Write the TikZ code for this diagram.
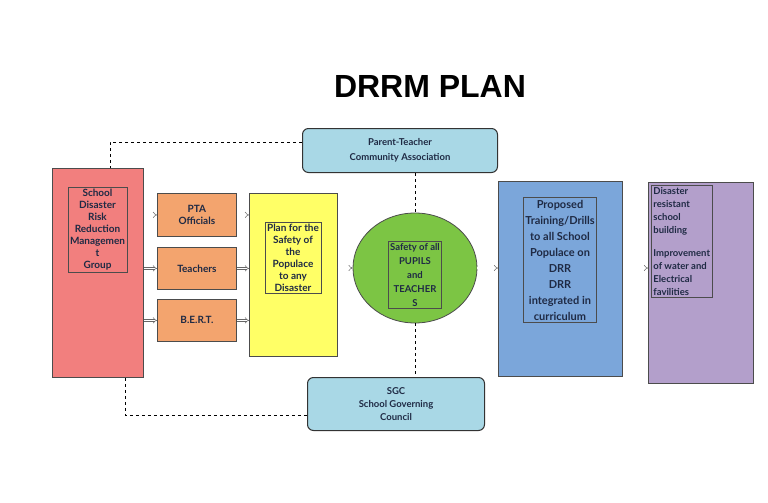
\documentclass[tikz,border=0pt]{standalone}
\usepackage{fontspec}
\setmainfont{Lato}
\newfontfamily\titlefont{Liberation Sans}
\usetikzlibrary{arrows.meta,shapes.geometric}
\definecolor{cred}{HTML}{F27F7E}
\definecolor{corg}{HTML}{F3A46E}
\definecolor{cyel}{HTML}{FFFF66}
\definecolor{cgrn}{HTML}{7CC544}
\definecolor{clb}{HTML}{A9D8E6}
\definecolor{cblu}{HTML}{7BA6DA}
\definecolor{cpur}{HTML}{B39FCB}
\definecolor{ctxt}{HTML}{1F2A44}
\begin{document}
\begin{tikzpicture}[x=1pt,y=-1pt,
  bx/.style={draw=black!70,line width=0.8pt,inner sep=2pt,align=center,font=\bfseries\fontsize{10}{12}\selectfont,text=ctxt},
  rb/.style={bx,rounded corners=6pt,draw=black!80,line width=1pt},
  dl/.style={dashed,line width=0.7pt},
  ar/.style={double,double distance=1.6pt,line width=0.5pt,draw=black!60,-{Implies}}]
\useasboundingbox (0,0) rectangle (768,503);
\node[font=\titlefont\bfseries\fontsize{32}{36}\selectfont] (t) at (430,86) {DRRM PLAN};
\node[bx,fill=cred,minimum width=91,minimum height=209,anchor=north west] (red) at (52,168) {};
\node[bx,text=ctxt] (redt) at (97.5,230) {School\\Disaster\\Risk\\Reduction\\Managemen\\t\\Group};
\node[bx,fill=corg,minimum width=79,minimum height=43,anchor=north west] (pta) at (157,193) {PTA\\Officials};
\node[bx,fill=corg,minimum width=79,minimum height=42,anchor=north west] (tea) at (157,247) {Teachers};
\node[bx,fill=corg,minimum width=79,minimum height=42,anchor=north west] (bert) at (157,299) {B.E.R.T.};
\node[bx,fill=cyel,minimum width=88,minimum height=163,anchor=north west] (yel) at (249,193) {};
\node[bx] (yelt) at (293,258) {Plan for the\\Safety of\\the\\Populace\\to any\\Disaster};
\node[bx,ellipse,fill=cgrn,minimum width=124,minimum height=110,inner sep=0pt] (cir) at (415,268) {};
\node[bx,font=\bfseries\fontsize{9.5}{14}\selectfont] (cirt) at (415,275) {Safety of all\\PUPILS\\and\\TEACHER\\S};
\node[rb,fill=clb,minimum width=195,minimum height=44,anchor=north west] (ptca) at (302,128) {};
\node[bx,draw=none,font=\bfseries\fontsize{9.5}{15}\selectfont] at (ptca.center) {Parent-Teacher\\Community Association};
\node[rb,fill=clb,minimum width=177,minimum height=53,anchor=north west] (sgc) at (307,377) {};
\node[bx,draw=none,font=\bfseries\fontsize{9.5}{13}\selectfont] at (sgc.center) {SGC\\School Governing\\Council};
\node[bx,fill=cblu,minimum width=124,minimum height=195,anchor=north west] (blu) at (498,181) {};
\node[bx,font=\bfseries\fontsize{11}{16}\selectfont] (blut) at (560,260) {Proposed\\Training/Drills\\to all School\\Populace on\\DRR\\DRR\\integrated in\\curriculum};
\node[bx,fill=cpur,minimum width=105,minimum height=201,anchor=north west] (pur) at (648,182) {};
\node[bx,align=left,anchor=north west,font=\bfseries\fontsize{9.5}{13}\selectfont] (purt) at (651,185) {Disaster\\resistant\\school\\building\\[10pt]Improvement\\of water and\\Electrical\\favilities};
\draw[ar] (red.east |- pta) -- (pta);
\draw[ar] (red.east |- tea) -- (tea);
\draw[ar] (red.east |- bert) -- (bert);
\draw[ar] (pta) -- (yel.west |- pta);
\draw[ar] (tea) -- (yel.west |- tea);
\draw[ar] (bert) -- (yel.west |- bert);
\draw[ar] (yel.east |- cir.west) -- (cir.west);
\draw[ar] (cir.east) -- (blu.west |- cir.east);
\draw[ar] (blu.east |- cir.east) -- (pur.west |- cir.east);
\coordinate (c1) at (110,142);
\coordinate (c2) at (125,415);
\draw[dl] (ptca.west |- c1) -- (c1) -- (c1 |- red.north);
\draw[dl] (ptca.south -| cir.north) -- (cir.north);
\draw[dl] (cir.south) -- (sgc.north -| cir.south);
\draw[dl] (c2 |- red.south) -- (c2) -- (sgc.west |- c2);
\end{tikzpicture}
\end{document}
